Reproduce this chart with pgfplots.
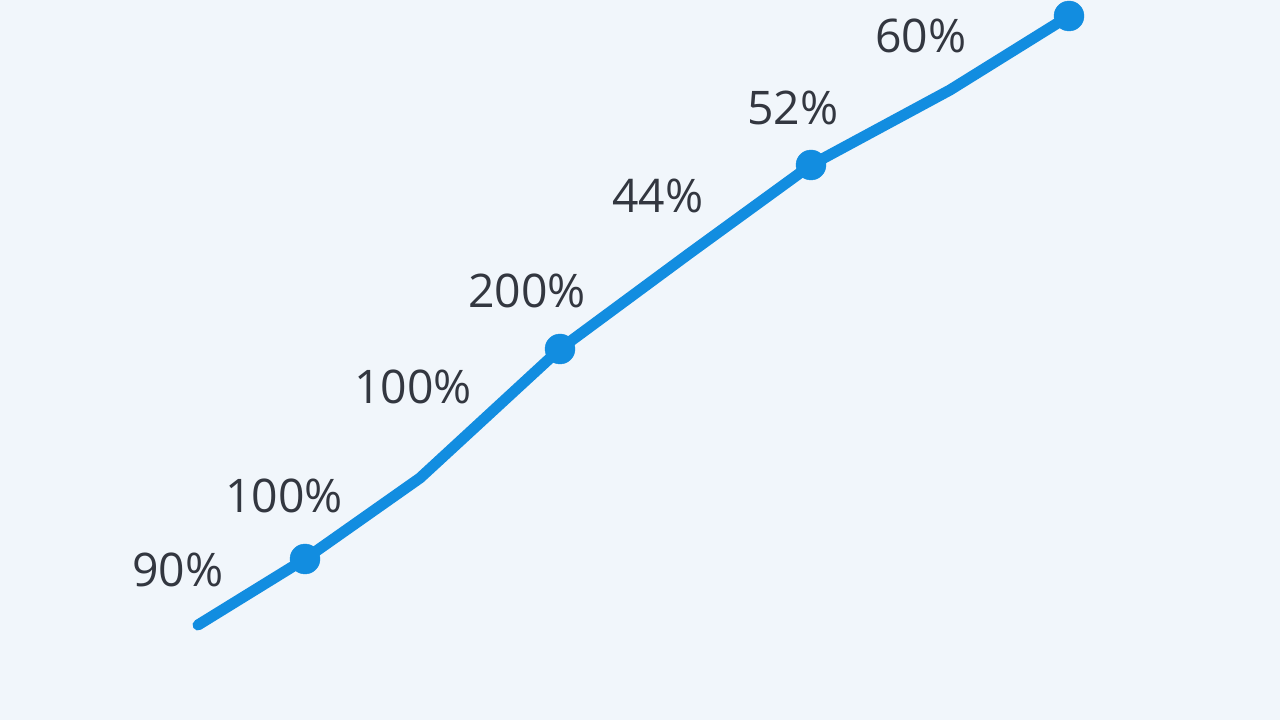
\documentclass[border=0pt]{standalone}
\usepackage{pgfplots}
\pgfplotsset{compat=1.18}
\usepackage{fontspec}
\setmainfont{Open Sans}
\definecolor{bg}{HTML}{F1F6FB}
\definecolor{ln}{HTML}{128DE0}
\definecolor{tx}{HTML}{333740}
\begin{document}
\begin{tikzpicture}
\begin{axis}[
  width=1280bp, height=720bp, scale only axis,
  xmin=0, xmax=1280, ymin=0, ymax=720, y dir=reverse,
  hide axis, clip=false,
]
\fill[bg] (rel axis cs:0,0) rectangle (rel axis cs:1,1);
\addplot[ln, line width=11bp, line cap=round, line join=round, mark=none]
  coordinates {(198,625) (305,559) (420,478) (560,349) (690,253) (811,165) (950,90) (1069,16)};
\addplot[only marks, mark=*, mark size=15bp, mark options={fill=ln, draw=ln}]
  coordinates {(305,559) (560,349) (811,165) (1069,16)};
\begin{scope}[every node/.style={text=tx, font=\fontsize{46.5}{55}\selectfont, inner sep=0pt}]
\node at (axis cs:178,570) {90\%};
\node at (axis cs:284,496) {100\%};
\node at (axis cs:413,387) {100\%};
\node at (axis cs:527,291) {200\%};
\node at (axis cs:658,196) {44\%};
\node at (axis cs:793,108) {52\%};
\node at (axis cs:921,36) {60\%};
\end{scope}
\end{axis}
\end{tikzpicture}
\end{document}
